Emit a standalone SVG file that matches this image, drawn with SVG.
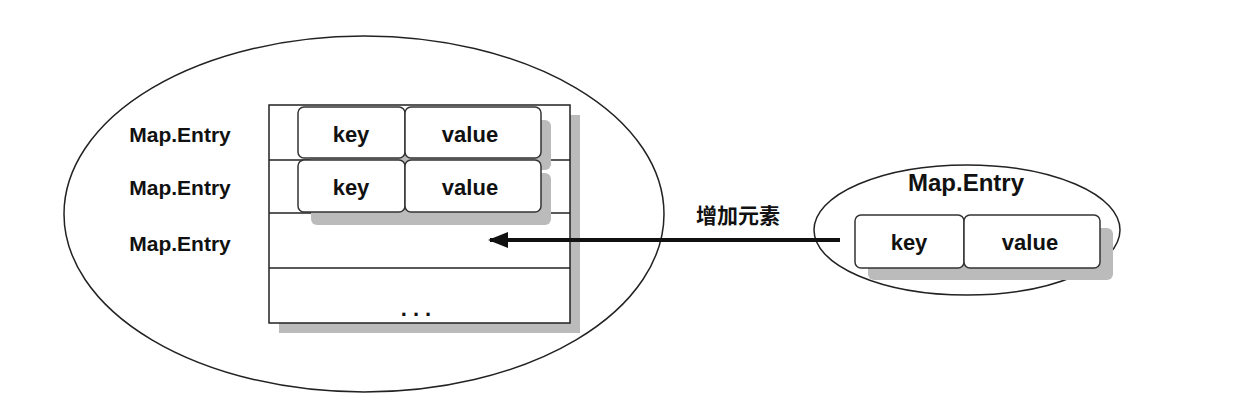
<svg xmlns="http://www.w3.org/2000/svg" width="1242" height="407" viewBox="0 0 1242 407">
<style>
.t{font-family:"Liberation Sans",Arial,"Noto Sans CJK SC",sans-serif;font-weight:bold;fill:#111}
.e{fill:none;stroke:#222;stroke-width:1.5}
.c{fill:#fff;stroke:#333;stroke-width:1.5}
.s{fill:#bbb}
</style>
<defs>
<marker id="a2" markerWidth="20" markerHeight="16" refX="18" refY="8" orient="auto" markerUnits="userSpaceOnUse"><path d="M0,0 L20,8 L0,16 Z" fill="#111"/></marker></defs>
<rect width="1242" height="407" fill="#fff"/>
<g id="left-map">
<ellipse class="e" cx="364" cy="214" rx="300" ry="178"/>
<rect class="s" x="279" y="115" width="301" height="218"/>
<rect fill="#fff" stroke="#222" stroke-width="1.5" x="269" y="105" width="301" height="218"/>
<line x1="269" y1="160" x2="570" y2="160" stroke="#222" stroke-width="1.5"/>
<line x1="269" y1="213" x2="570" y2="213" stroke="#222" stroke-width="1.5"/>
<line x1="269" y1="268" x2="570" y2="268" stroke="#222" stroke-width="1.5"/>
<rect class="s" x="311" y="120" width="240" height="50" rx="6"/>
<rect class="s" x="311" y="173" width="240" height="52" rx="6"/>
<rect class="c" x="298" y="107" width="107" height="51" rx="6"/>
<rect class="c" x="405" y="107" width="136" height="51" rx="6"/>
<rect class="c" x="298" y="160" width="107" height="52" rx="6"/>
<rect class="c" x="405" y="160" width="136" height="52" rx="6"/>
<text class="t" x="351" y="142" font-size="22" text-anchor="middle">key</text>
<text class="t" x="470" y="142" font-size="22" text-anchor="middle">value</text>
<text class="t" x="351" y="195" font-size="22" text-anchor="middle">key</text>
<text class="t" x="470" y="195" font-size="22" text-anchor="middle">value</text>
<text class="t" x="419" y="316" font-size="22" text-anchor="middle" letter-spacing="6">...</text>
<text class="t" x="180" y="142" font-size="21" text-anchor="middle">Map.Entry</text>
<text class="t" x="180" y="195" font-size="21" text-anchor="middle">Map.Entry</text>
<text class="t" x="180" y="251" font-size="21" text-anchor="middle">Map.Entry</text>
</g>
<g id="new-entry">
<ellipse class="e" cx="967" cy="230" rx="153" ry="65"/>
<rect class="s" x="868" y="228" width="245" height="52" rx="6"/>
<rect class="c" x="855" y="215" width="109" height="53" rx="6"/>
<rect class="c" x="964" y="215" width="136" height="53" rx="6"/>
<text class="t" x="909" y="250" font-size="22" text-anchor="middle">key</text>
<text class="t" x="1030" y="250" font-size="22" text-anchor="middle">value</text>
<text class="t" x="966" y="191" font-size="24" text-anchor="middle">Map.Entry</text>
</g>
<g id="connectors">
<line x1="840" y1="240" x2="490" y2="240" stroke="#111" stroke-width="4" marker-end="url(#a2)"/>
<text class="t" x="738" y="223" font-size="21" text-anchor="middle">增加元素</text>
</g>
</svg>
